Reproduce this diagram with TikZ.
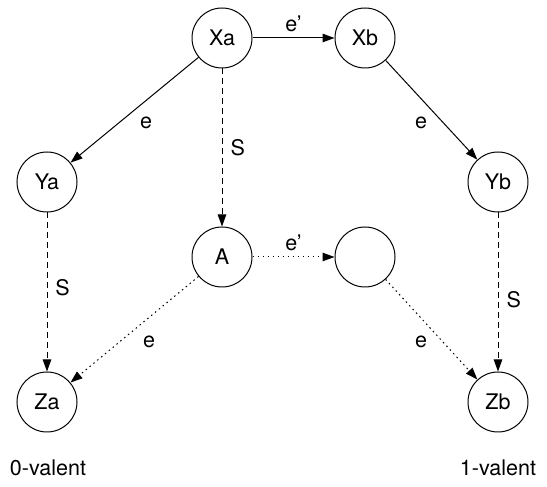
\documentclass[tikz,border=0pt]{standalone}
\usepackage{fontspec}
\setmainfont{TeX Gyre Heros}
\usetikzlibrary{arrows.meta,positioning}
\tikzset{
  state/.style={draw,circle,minimum size=60pt,inner sep=0pt,line width=1pt},
  tip/.style={-{Triangle[length=12pt,width=8.5pt]}},
  lbl/.style={inner sep=2pt},
}
\begin{document}
\begin{tikzpicture}[x=1pt,y=1pt,line width=1pt,font=\fontsize{21.5}{25}\selectfont]
  \useasboundingbox (0,0) rectangle (547,487);
  \node[state] (Xa) at (222,449) {Xa};
  \node[state] (Xb) at (365,449) {Xb};
  \node[state] (Ya) at (47,305) {Ya};
  \node[state] (Yb) at (498,305) {Yb};
  \node[state] (A) at (222,230) {A};
  \node[state] (B) at (365,230) {};
  \node[state] (Za) at (47,85) {Za};
  \node[state] (Zb) at (498,85) {Zb};
  \node (zero) at (48,19) {0-valent};
  \node (one) at (498,19) {1-valent};
  % solid steps
  \draw[tip] (Xa) -- node[lbl,above=4pt] {e'} (Xb);
  \draw[tip] (Xa) -- node[lbl,below right=4pt and 3pt] {e} (Ya);
  \draw[tip] (Xb) -- node[lbl,below left=4pt and 2pt] {e} (Yb);
  % dashed steps
  \draw[tip,dash pattern=on 6pt off 4pt] (Xa) -- node[lbl,right=6pt] {S} (A);
  \draw[tip,dash pattern=on 6pt off 4pt] (Ya) -- node[lbl,right=6pt,pos=0.47] {S} (Za);
  \draw[tip,dash pattern=on 6pt off 4pt] (Yb) -- node[lbl,right=6pt,pos=0.55] {S} (Zb);
  % dotted steps
  \draw[tip,dash pattern=on 1.5pt off 3.5pt] (A) -- node[lbl,above=4pt] {e'} (B);
  \draw[tip,dash pattern=on 1.5pt off 3.5pt] (A) -- node[lbl,below right=4pt and 6pt] {e} (Za);
  \draw[tip,dash pattern=on 1.5pt off 3.5pt] (B) -- node[lbl,below left=4pt and 2pt] {e} (Zb);
\end{tikzpicture}
\end{document}
